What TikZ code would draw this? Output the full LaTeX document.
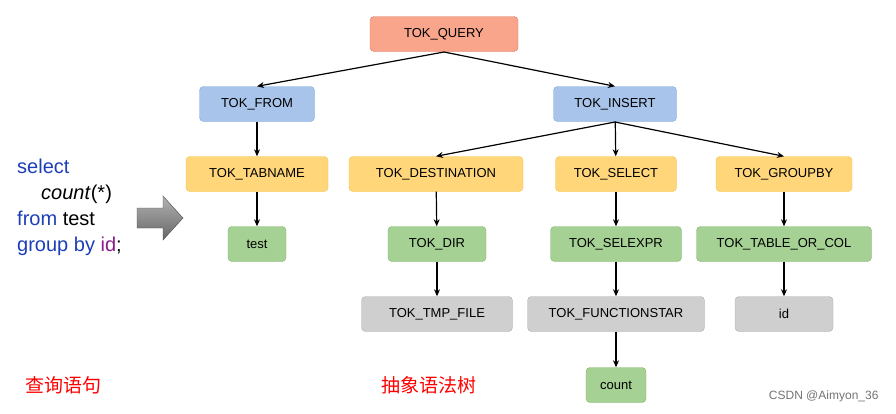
\documentclass[tikz,border=0pt]{standalone}
\usepackage{fontspec}
\setmainfont{Liberation Sans}
\newfontfamily\cjk{Noto Sans CJK SC}
\usetikzlibrary{arrows.meta}
\definecolor{qf}{HTML}{F9A58C}\definecolor{qd}{HTML}{E07A60}
\definecolor{bf}{HTML}{A9C4EB}\definecolor{bd}{HTML}{7EA6E0}
\definecolor{yf}{HTML}{FFD77A}\definecolor{yd}{HTML}{F5BE3B}
\definecolor{gf}{HTML}{A6D194}\definecolor{gd}{HTML}{82B366}
\definecolor{hf}{HTML}{CFCFCF}\definecolor{hd}{HTML}{ADADAD}
\definecolor{kw}{HTML}{1C3FB8}\definecolor{pu}{HTML}{8B1A8B}
\begin{document}
\begin{tikzpicture}[x=1pt,y=-1pt,
 box/.style={draw,rounded corners=4pt,minimum height=35pt,inner sep=0pt,font=\fontsize{13}{15}\selectfont},
 q/.style={box,fill=qf,draw=qd},
 b/.style={box,fill=bf,draw=bd},
 yl/.style={box,fill=yf,draw=yd},
 g/.style={box,fill=gf,draw=gd},
 h/.style={box,fill=hf,draw=hd},
 e/.style={-{Stealth[length=7pt,width=6pt]},line width=1.2pt}]
\useasboundingbox (0,0) rectangle (896,413);
\node[q,minimum width=148pt] (query) at (444,34) {TOK\_QUERY};
\node[b,minimum width=115pt] (from) at (257,104) {TOK\_FROM};
\node[b,minimum width=123pt] (insert) at (615,104) {TOK\_INSERT};
\node[yl,minimum width=142pt] (tab) at (257,174) {TOK\_TABNAME};
\node[yl,minimum width=174pt] (dest) at (436,174) {TOK\_DESTINATION};
\node[yl,minimum width=121pt] (sel) at (616,174) {TOK\_SELECT};
\node[yl,minimum width=136pt] (grp) at (784,174) {TOK\_GROUPBY};
\node[g,minimum width=58pt] (test) at (257,244) {test};
\node[g,minimum width=98pt] (dir) at (437,244) {TOK\_DIR};
\node[g,minimum width=131pt] (selx) at (616,244) {TOK\_SELEXPR};
\node[g,minimum width=175pt] (toc) at (784,244) {TOK\_TABLE\_OR\_COL};
\node[h,minimum width=151pt] (tmp) at (437,314) {TOK\_TMP\_FILE};
\node[h,minimum width=177pt] (fs) at (616,314) {TOK\_FUNCTIONSTAR};
\node[h,minimum width=98pt] (id) at (784,314) {id};
\node[g,minimum width=60pt] (cnt) at (616,385) {count};
\coordinate (qb) at (444,52);
\coordinate (ib) at (615,122);
\draw[e] (qb) -- (from.north);
\draw[e] (qb) -- (insert.north);
\draw[e] (from) -- (tab);
\draw[e] (ib) -- (dest.north);
\draw[e] (insert) -- (sel);
\draw[e] (ib) -- (grp.north);
\draw[e] (tab) -- (test);
\draw[e] (dest) -- (dir);
\draw[e] (sel) -- (selx);
\draw[e] (grp) -- (toc);
\draw[e] (dir) -- (tmp);
\draw[e] (selx) -- (fs);
\draw[e] (toc) -- (id);
\draw[e] (fs) -- (cnt);
\node[anchor=west,inner sep=0pt,font=\fontsize{20}{26}\selectfont,align=left] (code) at (17,207)
 {\color{kw}select\\\hspace*{24pt}\color{black}\textit{count}(*)\\\color{kw}from \color{black}test\\\color{kw}group by \color{pu}id\color{black};};
\draw[draw=black!70,top color=black!30,bottom color=black!60,shading angle=0]
 (137,208) -- (163,208) -- (163,196) -- (183,218) -- (163,240) -- (163,228) -- (137,228) -- cycle;
\node[anchor=west,text=red,font=\cjk\fontsize{19}{22}\selectfont] (l1) at (22,385) {查询语句};
\node[anchor=west,text=red,font=\cjk\fontsize{19}{22}\selectfont] (l2) at (378,385) {抽象语法树};
\node[anchor=east,text=black!55,font=\fontsize{12}{14}\selectfont] (wm) at (882,396) {CSDN @Aimyon\_36};
\end{tikzpicture}
\end{document}
